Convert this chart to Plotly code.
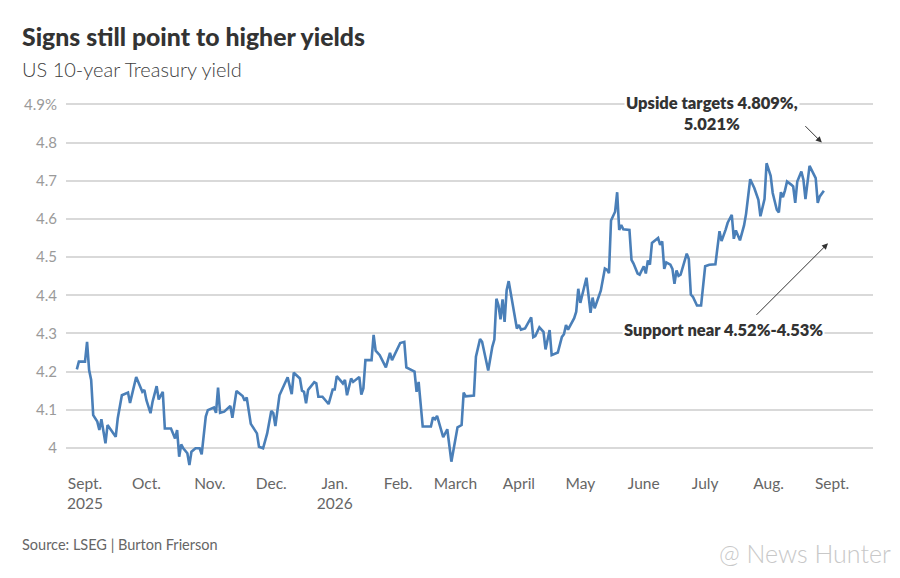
import plotly.graph_objects as go

# US 10-year Treasury yield (vertices of the line)
dates = [
    "2025-08-28", "2025-08-29", "2025-09-01", "2025-09-02", "2025-09-03", "2025-09-04",
    "2025-09-05", "2025-09-07", "2025-09-08", "2025-09-09", "2025-09-11", "2025-09-12",
    "2025-09-16", "2025-09-17", "2025-09-19", "2025-09-22", "2025-09-23", "2025-09-26",
    "2025-09-29", "2025-09-30", "2025-10-01", "2025-10-02", "2025-10-03", "2025-10-04",
    "2025-10-06", "2025-10-07", "2025-10-09", "2025-10-10", "2025-10-13", "2025-10-15",
    "2025-10-16", "2025-10-17", "2025-10-18", "2025-10-19", "2025-10-21", "2025-10-22",
    "2025-10-23", "2025-10-25", "2025-10-27", "2025-10-28", "2025-10-30", "2025-10-31",
    "2025-11-03", "2025-11-04", "2025-11-05", "2025-11-06", "2025-11-08", "2025-11-11",
    "2025-11-12", "2025-11-14", "2025-11-17", "2025-11-18", "2025-11-19", "2025-11-21",
    "2025-11-24", "2025-11-25", "2025-11-27", "2025-11-29", "2025-12-01", "2025-12-02",
    "2025-12-03", "2025-12-05", "2025-12-09", "2025-12-11", "2025-12-12", "2025-12-15",
    "2025-12-16", "2025-12-17", "2025-12-18", "2025-12-19", "2025-12-22", "2025-12-23",
    "2025-12-24", "2025-12-26", "2025-12-29", "2025-12-31", "2026-01-01", "2026-01-02",
    "2026-01-05", "2026-01-06", "2026-01-07", "2026-01-09", "2026-01-10", "2026-01-13",
    "2026-01-14", "2026-01-15", "2026-01-16", "2026-01-19", "2026-01-20", "2026-01-21",
    "2026-01-23", "2026-01-26", "2026-01-28", "2026-01-29", "2026-02-02", "2026-02-04",
    "2026-02-05", "2026-02-09", "2026-02-10", "2026-02-11", "2026-02-13", "2026-02-17",
    "2026-02-18", "2026-02-19", "2026-02-20", "2026-02-23", "2026-02-25", "2026-02-27",
    "2026-03-02", "2026-03-04", "2026-03-05", "2026-03-06", "2026-03-10", "2026-03-11",
    "2026-03-13", "2026-03-14", "2026-03-17", "2026-03-19", "2026-03-20", "2026-03-21",
    "2026-03-22", "2026-03-23", "2026-03-24", "2026-03-25", "2026-03-26", "2026-03-27",
    "2026-03-28", "2026-03-31", "2026-04-01", "2026-04-02", "2026-04-04", "2026-04-07",
    "2026-04-08", "2026-04-09", "2026-04-11", "2026-04-13", "2026-04-14", "2026-04-16",
    "2026-04-17", "2026-04-20", "2026-04-22", "2026-04-23", "2026-04-24", "2026-04-25",
    "2026-04-28", "2026-04-29", "2026-04-30", "2026-05-01", "2026-05-04", "2026-05-06",
    "2026-05-07", "2026-05-08", "2026-05-11", "2026-05-13", "2026-05-14", "2026-05-15",
    "2026-05-16", "2026-05-18", "2026-05-19", "2026-05-20", "2026-05-21", "2026-05-22",
    "2026-05-25", "2026-05-26", "2026-05-27", "2026-05-29", "2026-05-30", "2026-06-01",
    "2026-06-02", "2026-06-03", "2026-06-04", "2026-06-05", "2026-06-08", "2026-06-09",
    "2026-06-10", "2026-06-11", "2026-06-12", "2026-06-14", "2026-06-15", "2026-06-16",
    "2026-06-17", "2026-06-18", "2026-06-19", "2026-06-22", "2026-06-23", "2026-06-24",
    "2026-06-25", "2026-06-27", "2026-06-29", "2026-07-01", "2026-07-03", "2026-07-06",
    "2026-07-08", "2026-07-09", "2026-07-11", "2026-07-12", "2026-07-14", "2026-07-15",
    "2026-07-16", "2026-07-18", "2026-07-20", "2026-07-21", "2026-07-23", "2026-07-25",
    "2026-07-27", "2026-07-28", "2026-07-30", "2026-07-31", "2026-08-02", "2026-08-03",
    "2026-08-05", "2026-08-06", "2026-08-07", "2026-08-08", "2026-08-09", "2026-08-10",
    "2026-08-12", "2026-08-13", "2026-08-14", "2026-08-15", "2026-08-17", "2026-08-18",
    "2026-08-19", "2026-08-21", "2026-08-24", "2026-08-25", "2026-08-26", "2026-08-28",
]
yields = [
    4.206, 4.226, 4.226, 4.278, 4.204, 4.178,
    4.086, 4.069, 4.047, 4.075, 4.012, 4.060,
    4.029, 4.078, 4.138, 4.145, 4.118, 4.186,
    4.147, 4.152, 4.125, 4.104, 4.091, 4.121,
    4.162, 4.127, 4.147, 4.051, 4.051, 4.025,
    4.047, 3.977, 4.009, 3.999, 3.986, 3.955,
    3.990, 3.999, 3.999, 3.983, 4.082, 4.099,
    4.106, 4.092, 4.158, 4.092, 4.095, 4.110,
    4.079, 4.149, 4.136, 4.124, 4.132, 4.063,
    4.038, 4.003, 3.999, 4.038, 4.097, 4.091,
    4.057, 4.138, 4.185, 4.141, 4.197, 4.182,
    4.150, 4.147, 4.117, 4.152, 4.172, 4.169,
    4.134, 4.134, 4.115, 4.153, 4.153, 4.188,
    4.169, 4.178, 4.138, 4.182, 4.173, 4.186,
    4.140, 4.156, 4.230, 4.230, 4.296, 4.255,
    4.243, 4.211, 4.249, 4.230, 4.275, 4.278,
    4.211, 4.200, 4.147, 4.173, 4.056, 4.056,
    4.080, 4.075, 4.084, 4.028, 4.049, 3.964,
    4.054, 4.060, 4.145, 4.135, 4.137, 4.239,
    4.285, 4.278, 4.203, 4.265, 4.284, 4.391,
    4.374, 4.337, 4.389, 4.330, 4.413, 4.437,
    4.404, 4.313, 4.322, 4.310, 4.313, 4.342,
    4.290, 4.293, 4.316, 4.304, 4.258, 4.309,
    4.243, 4.250, 4.291, 4.298, 4.322, 4.310,
    4.340, 4.357, 4.417, 4.380, 4.446, 4.354,
    4.394, 4.366, 4.412, 4.470, 4.467, 4.458,
    4.596, 4.619, 4.670, 4.571, 4.584, 4.573,
    4.571, 4.493, 4.483, 4.457, 4.454, 4.476,
    4.457, 4.491, 4.480, 4.537, 4.550, 4.532,
    4.541, 4.469, 4.486, 4.480, 4.469, 4.430,
    4.465, 4.451, 4.454, 4.509, 4.495, 4.402,
    4.396, 4.373, 4.373, 4.476, 4.480, 4.481,
    4.568, 4.542, 4.572, 4.590, 4.611, 4.548,
    4.570, 4.544, 4.583, 4.614, 4.704, 4.681,
    4.650, 4.607, 4.652, 4.746, 4.713, 4.668,
    4.624, 4.617, 4.670, 4.657, 4.675, 4.698,
    4.690, 4.685, 4.642, 4.698, 4.724, 4.703,
    4.652, 4.739, 4.707, 4.642, 4.659, 4.674,
]

month_ticks = ["2025-09-01", "2025-10-01", "2025-11-01", "2025-12-01", "2026-01-01",
               "2026-02-01", "2026-03-01", "2026-04-01", "2026-05-01", "2026-06-01",
               "2026-07-01", "2026-08-01", "2026-09-01"]
month_labels = ["Sept.<br>2025", "Oct.", "Nov.", "Dec.", "Jan.<br>2026", "Feb.", "March",
                "April", "May", "June", "July", "Aug.", "Sept."]
y_ticks = [4.0, 4.1, 4.2, 4.3, 4.4, 4.5, 4.6, 4.7, 4.8, 4.9]
y_labels = ["4", "4.1", "4.2", "4.3", "4.4", "4.5", "4.6", "4.7", "4.8", "4.9%"]

FONT = "Lato"
LINE = "#4a7fb8"

fig = go.Figure()
fig.add_trace(go.Scatter(x=dates, y=yields, mode="lines",
                         line=dict(color=LINE, width=2.6), hoverinfo="x+y"))

# Text annotations
notes = [
    dict(text="Signs still point to higher yields", xref="paper", yref="paper",
         x=-0.057, y=1.152, xanchor="left", yanchor="middle",
         font=dict(family=FONT, size=24.8, weight=900, color="#333333")),
    dict(text="US 10-year Treasury yield", xref="paper", yref="paper",
         x=-0.057, y=1.063, xanchor="left", yanchor="middle",
         font=dict(family=FONT, size=20, weight=300, color="#404040")),
    dict(text="Source: LSEG | Burton Frierson", xref="paper", yref="paper",
         x=-0.057, y=-0.208, xanchor="left", yanchor="middle",
         font=dict(family=FONT, size=14.5, color="#666666")),
    dict(text="@ News Hunter", xref="paper", yref="paper",
         x=1.025, y=-0.229, xanchor="right", yanchor="middle",
         font=dict(family=FONT, size=25, weight=300, color="#c8c8c8")),
    dict(text="Upside targets 4.809%,<br>5.021%", xref="paper", yref="y",
         x=0.8005, y=4.875, xanchor="center", yanchor="middle",
         bgcolor="white", font=dict(family=FONT, size=16.5, weight=800, color="#333333")),
    dict(text="Support near 4.52%-4.53%", xref="paper", yref="y",
         x=0.815, y=4.309, xanchor="center", yanchor="middle",
         bgcolor="white", font=dict(family=FONT, size=16.5, weight=800, color="#333333")),
]
for n in notes:
    fig.add_annotation(showarrow=False, **n)

# Arrows
fig.add_annotation(x="2026-08-27", y=4.80, xref="x", yref="y", text="",
                   showarrow=True, ax=-18, ay=-18, arrowhead=2, arrowsize=1.2,
                   arrowwidth=1, arrowcolor="#333333")
fig.add_annotation(x="2026-08-30", y=4.536, xref="x", yref="y", text="",
                   showarrow=True, ax=-73, ay=73, arrowhead=2, arrowsize=1.2,
                   arrowwidth=1, arrowcolor="#333333")

# page body has an 8px margin, so margins are trimmed by 8px on the left and top
fig.update_layout(
    width=900, height=578,
    margin=dict(l=58, r=35, t=84.5, b=119),
    plot_bgcolor="white", paper_bgcolor="white",
    showlegend=False,
    font=dict(family=FONT, color="#666666"),
    xaxis=dict(range=["2025-08-22 17:00", "2026-09-21"], tickvals=month_ticks,
               ticktext=month_labels, showgrid=False, zeroline=False, showline=False,
               ticks="", ticklabelstandoff=5, tickfont=dict(size=15.5, color="#666666"),
               fixedrange=True),
    yaxis=dict(range=[3.95, 4.93], tickvals=y_ticks, ticktext=y_labels,
               showgrid=True, gridcolor="#d9d9d9", gridwidth=1.5, zeroline=False,
               showline=False, ticks="", ticklabelstandoff=8,
               tickfont=dict(size=15, color="#9a9a9a"), fixedrange=True),
)

fig.write_html("out.html")
